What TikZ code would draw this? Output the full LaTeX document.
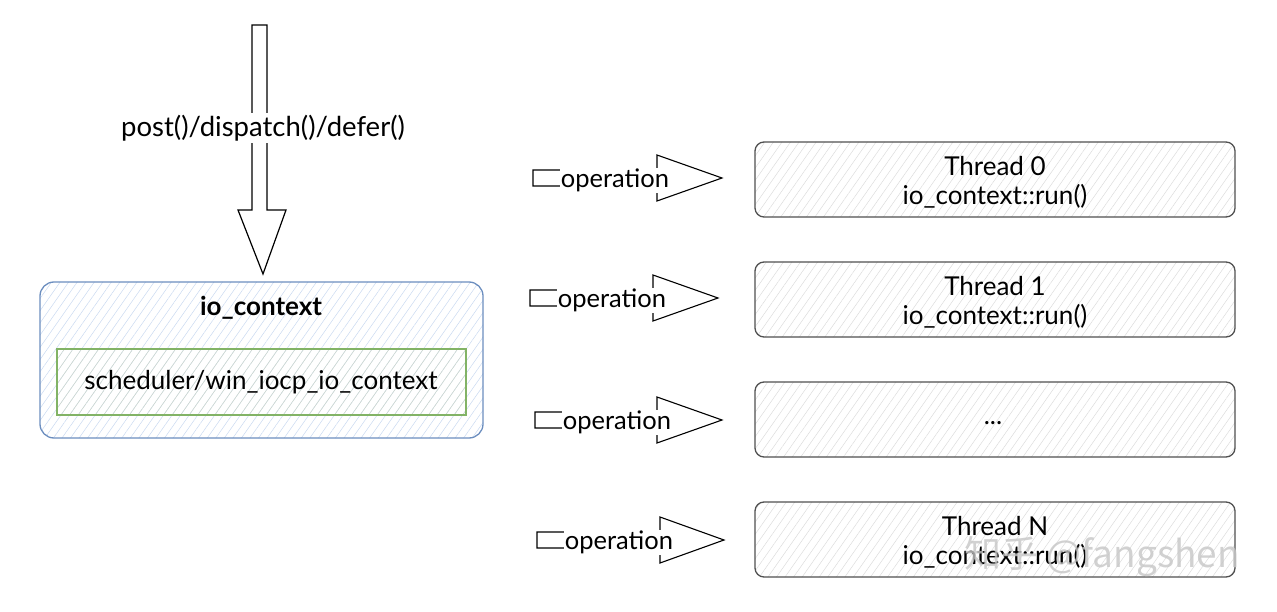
\documentclass[tikz,border=0pt]{standalone}
\usepackage{fontspec}
\setmainfont{Lato}
\newfontfamily\cjk{Noto Sans CJK SC}
\usetikzlibrary{patterns.meta}
\definecolor{bluestroke}{HTML}{6C8EBF}
\definecolor{bluehatch}{HTML}{C9D9F0}
\definecolor{greenstroke}{HTML}{82B366}
\definecolor{greenhatch}{HTML}{CFD8CC}
\definecolor{graystroke}{HTML}{505050}
\definecolor{grayhatch}{HTML}{DCDCDC}
\tikzset{
  hatch/.style={pattern={Lines[angle=55,distance=7pt,line width=0.5pt]}, pattern color=#1},
  ctxbox/.style={draw=bluestroke, line width=1.3pt, rounded corners=14pt, hatch=bluehatch},
  schedbox/.style={draw=greenstroke, line width=1.2pt, hatch=greenhatch},
  threadbox/.style={draw=graystroke, line width=1.3pt, rounded corners=9pt, hatch=grayhatch},
  txt/.style={font=\fontsize{26}{30}\selectfont, text=black},
  oparrow/.style={draw=black, line width=1.1pt, fill=white, line join=miter},
  oplabel/.style={font=\fontsize{25.5}{29}\selectfont, text=black, fill=white, inner sep=1pt},
}
\begin{document}
\begin{tikzpicture}[x=1pt,y=-1pt]
\useasboundingbox (0,0) rectangle (1277,612);
% io_context box
\path[ctxbox] (40,282) rectangle (483,438);
\node[font=\fontsize{26}{30}\selectfont\bfseries] (ctxtitle) at (261,308) {io\_context};
\path[schedbox] (57,349) rectangle (466,415);
\node[txt] (sched) at (261,382) {scheduler/win\_iocp\_io\_context};
\coordinate (ctxtop) at (263,274);
% big hollow arrow
\coordinate (arrtop) at (259.5,25);
\draw[oparrow, line width=1.2pt] (arrtop) ++(-7.5,0) -- ++(15,0) -- (267,210) -- (286,210) -- (ctxtop) -- (238,210) -- (252,210) -- cycle;
\node[txt, fill=white, inner sep=2pt, font=\fontsize{27.5}{32}\selectfont] (postlbl) at (263,128) {post()/dispatch()/defer()};
% thread boxes
\foreach \y/\name in {142/t0,262/t1,382/t2,502/t3}{
  \path[threadbox] (755,\y) rectangle (1235,\y+75);
}
\node[txt] (th0a) at (995,166) {Thread 0};
\node[txt] (th0b) at (995,196) {io\_context::run()};
\node[txt] (th1a) at (995,286) {Thread 1};
\node[txt] (th1b) at (995,316) {io\_context::run()};
\node[txt] (th2) at (993,423) {...};
\node[txt] (th3a) at (995,526) {Thread N};
\node[txt] (th3b) at (995,556) {io\_context::run()};
% operation arrows
\foreach \yc/\xa/\xh/\xt/\n in {178/533/657/722/1, 298/530/653/718/2, 420/535/657/722/3, 540/537/660/724/4}{
  \draw[oparrow] (\xa,\yc-8) -- (\xh,\yc-8) -- (\xh,\yc-23) -- (\xt,\yc) -- (\xh,\yc+23) -- (\xh,\yc+8) -- (\xa,\yc+8) -- cycle;
  \node[oplabel] (op\n) at (\xa+82,\yc+2.5) {operation};
}
% watermark
\node[font=\cjk\fontsize{37}{40}\selectfont, text=gray!45, opacity=0.8] (wm) at (1102,557) {知乎 @fangshen};
\end{tikzpicture}
\end{document}
